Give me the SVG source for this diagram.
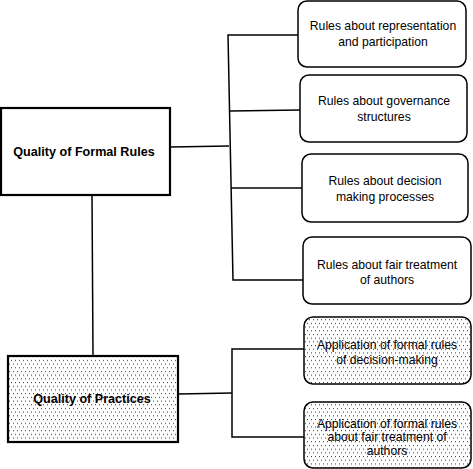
<svg xmlns="http://www.w3.org/2000/svg" width="473" height="469" viewBox="0 0 473 469">
<defs>
<pattern id="dots" x="0" y="0" width="4" height="7.4" patternUnits="userSpaceOnUse">
<rect width="4" height="7.4" fill="#ffffff"/>
<rect x="1" y="1" width="1" height="1" fill="#333"/>
<rect x="3" y="4.7" width="1" height="1" fill="#333"/>
</pattern>
</defs>
<style>
.main{fill:#fff;stroke:#000;stroke-width:2.2}
.dotted{fill:url(#dots);stroke:#000;stroke-width:2.2}
.sub{fill:#fff;stroke:#000;stroke-width:1.5}
.subd{fill:url(#dots);stroke:#000;stroke-width:1.5}
.line{fill:none;stroke:#000;stroke-width:1.5}
.bt{font-family:"Liberation Sans",Arial,sans-serif;font-size:12.6px;font-weight:bold;fill:#000;text-anchor:middle}
.t{font-family:"Liberation Sans",Arial,sans-serif;font-size:12.2px;fill:#000;text-anchor:middle}
</style>
<g id="connectors">
<polyline class="line" points="170,147 229,146"/>
<polyline class="line" points="298,35 228,35 233,280 303,280"/>
<line class="line" x1="230" y1="111" x2="300" y2="110"/>
<line class="line" x1="231" y1="188" x2="302" y2="188"/>
<line class="line" x1="92" y1="195" x2="93" y2="356"/>
<polyline class="line" points="178,394 232,393"/>
<polyline class="line" points="304,349 232,349 232,437 304,437"/>
</g>
<g id="formal-rules">
<rect class="main" x="1" y="108" width="169" height="87"/>
<text class="bt" x="84" y="156">Quality of Formal Rules</text>
</g>
<g id="practices">
<rect class="dotted" x="8" y="356" width="170" height="86"/>
<text class="bt" x="92" y="403">Quality of Practices</text>
</g>
<g id="rules-representation">
<rect class="sub" x="298" y="1" width="168" height="66" rx="9"/>
<text class="t" x="383" y="30">Rules about representation</text>
<text class="t" x="383" y="46">and participation</text>
</g>
<g id="rules-governance">
<rect class="sub" x="300" y="75" width="167" height="67" rx="9"/>
<text class="t" x="384" y="105">Rules about governance</text>
<text class="t" x="384" y="121">structures</text>
</g>
<g id="rules-decision">
<rect class="sub" x="302" y="154" width="166" height="68" rx="9"/>
<text class="t" x="385" y="185">Rules about decision</text>
<text class="t" x="385" y="201">making processes</text>
</g>
<g id="rules-fair">
<rect class="sub" x="303" y="237" width="168" height="67" rx="9"/>
<text class="t" x="387" y="269">Rules about fair treatment</text>
<text class="t" x="387" y="284">of authors</text>
</g>
<g id="app-decision">
<rect class="subd" x="304" y="317" width="167" height="67" rx="9"/>
<text class="t" x="387" y="349">Application of formal rules</text>
<text class="t" x="387" y="364">of decision-making</text>
</g>
<g id="app-fair">
<rect class="subd" x="304" y="402" width="167" height="66" rx="9"/>
<text class="t" x="387" y="428">Application of formal rules</text>
<text class="t" x="387" y="441">about fair treatment of</text>
<text class="t" x="387" y="455">authors</text>
</g>
</svg>
